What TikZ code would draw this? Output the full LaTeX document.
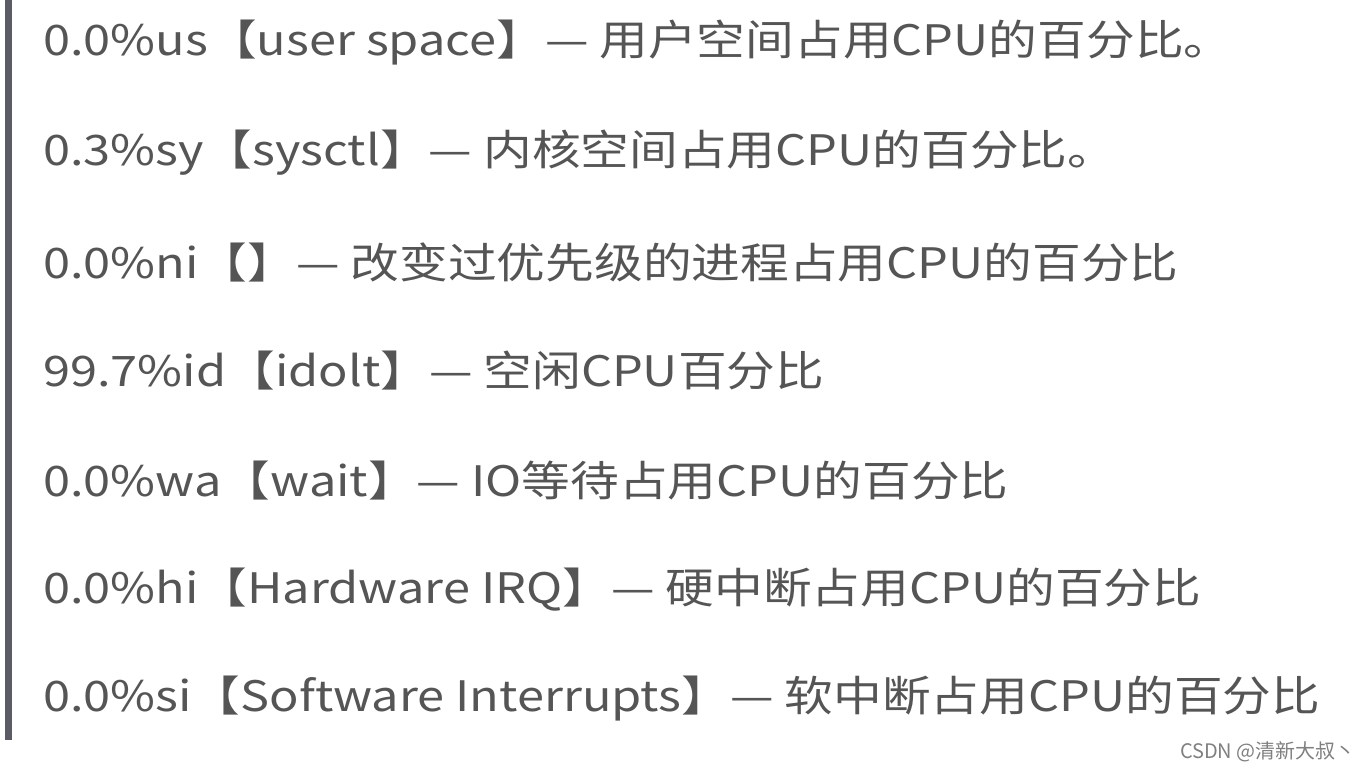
\documentclass[tikz,border=0pt]{standalone}
\usepackage{fontspec}
\setmainfont{Noto Sans CJK SC}
\definecolor{txt}{HTML}{555555}
\definecolor{bar}{HTML}{5B5B66}
\begin{document}
\begin{tikzpicture}[x=1pt,y=-1pt,
  line/.style={anchor=west,inner sep=0pt,text=txt,xscale=1.16,transform shape,font=\fontsize{42}{44}\selectfont}]
\useasboundingbox[fill=white] (0,0) rectangle (1368,772);
\fill[bar] (5,0) rectangle (12,740);
\node[line] (l1) at (43,43) {0.0\%us【user space】— 用户空间占用CPU的百分比。};
\node[line] (l2) at (43,153) {0.3\%sy【sysctl】— 内核空间占用CPU的百分比。};
\node[line] (l3) at (43,262) {0.0\%ni【】— 改变过优先级的进程占用CPU的百分比};
\node[line] (l4) at (43,371) {99.7\%id【idolt】— 空闲CPU百分比};
\node[line] (l5) at (43,481) {0.0\%wa【wait】— IO等待占用CPU的百分比};
\node[line] (l6) at (43,590) {0.0\%hi【Hardware IRQ】— 硬中断占用CPU的百分比};
\node[line] (l7) at (43,699) {0.0\%si【Software Interrupts】— 软中断占用CPU的百分比};
\node[anchor=east,inner sep=0pt,text=gray,font=\fontsize{20}{22}\selectfont] (wm) at (1356,752) {CSDN @清新大叔丶};
\end{tikzpicture}
\end{document}
